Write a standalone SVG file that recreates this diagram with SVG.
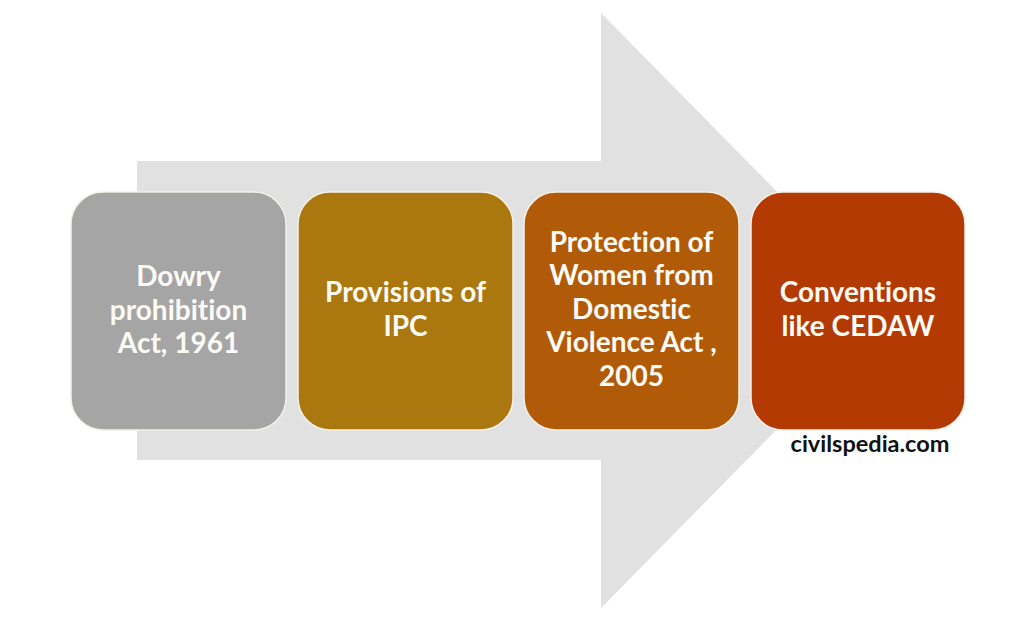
<svg xmlns="http://www.w3.org/2000/svg" width="1024" height="629" viewBox="0 0 1024 629">
<style>
.box{stroke:#f4efe9;stroke-width:1.5}
.t{font-family:Lato,"Liberation Sans",sans-serif;font-weight:bold;font-size:28px;fill:#fdfbf5;text-anchor:middle;font-variant-ligatures:none}
.w{font-family:Lato,"Liberation Sans",sans-serif;font-weight:bold;font-size:23.5px;fill:#111;text-anchor:middle}
</style>
<rect width="1024" height="629" fill="#ffffff"/>
<g id="arrow">
<polygon points="137,161 601,161 601,13 894,310.5 601,608 601,460 137,460" fill="#e1e1e1"/>
</g>
<g id="connectors"></g>
<g id="node1">
<rect class="box" x="71" y="192" width="215" height="238" rx="32" fill="#a5a5a5"/>
<text class="t" x="178.5"><tspan x="178.5" y="286">Dowry</tspan><tspan x="178.5" y="319.5">prohibition</tspan><tspan x="178.5" y="353">Act, 1961</tspan></text>
</g>
<g id="node2">
<rect class="box" x="298" y="192" width="215" height="238" rx="32" fill="#ab780f"/>
<text class="t"><tspan x="405.5" y="302">Provisions of</tspan><tspan x="405.5" y="335.5">IPC</tspan></text>
</g>
<g id="node3">
<rect class="box" x="524" y="192" width="215" height="238" rx="32" fill="#b15a07"/>
<text class="t"><tspan x="631.5" y="251.5">Protection of</tspan><tspan x="631.5" y="285">Women from</tspan><tspan x="631.5" y="318.5">Domestic</tspan><tspan x="631.5" y="352">Violence Act ,</tspan><tspan x="631.5" y="385.5">2005</tspan></text>
</g>
<g id="node4">
<rect class="box" x="751" y="192" width="214" height="238" rx="32" fill="#b33a02"/>
<text class="t"><tspan x="858" y="302">Conventions</tspan><tspan x="858" y="335.5">like CEDAW</tspan></text>
</g>
<g id="watermark">
<text class="w" x="870" y="452">civilspedia.com</text>
</g>
</svg>
